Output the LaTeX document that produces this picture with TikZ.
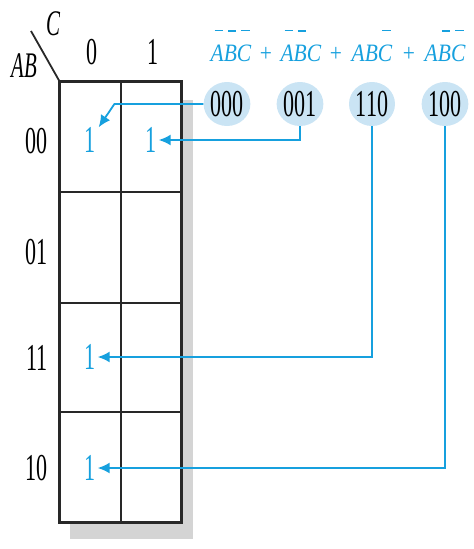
\documentclass[tikz,border=0pt]{standalone}
\usepackage{fontspec}
\setmainfont{Liberation Serif}[FakeStretch=0.58]
\newfontfamily\xfont{Liberation Serif}[FakeStretch=0.86]
\usetikzlibrary{positioning}
\usetikzlibrary{shapes.geometric}
\usetikzlibrary{arrows.meta}
\usetikzlibrary{calc}
\definecolor{kblue}{RGB}{22,160,222}
\definecolor{kfill}{RGB}{202,228,244}
\definecolor{kshade}{RGB}{212,212,212}
\definecolor{kline}{RGB}{40,40,40}
% letter with a short bar well above it
\newcommand{\nb}[1]{\setbox0\hbox{\itshape #1}\rlap{\hspace{0.3\wd0}\raisebox{1.8\ht0}{\rule{0.62\wd0}{1.6pt}}}\box0}

\begin{document}
\begin{tikzpicture}[x=1pt,y=-1pt,
	lbl/.style={font=\fontsize{38}{40}\selectfont,inner sep=0pt},
	one/.style={lbl,text=kblue},
	var/.style={font=\fontsize{36}{38}\selectfont\itshape,inner sep=0pt},
	cell/.style={rectangle,draw=kline,line width=1.6pt,fill=white,minimum width=60.5pt,minimum height=110pt,inner sep=0pt},
	term/.style={ellipse,fill=kfill,minimum width=46pt,minimum height=44pt,inner sep=0pt,font=\fontsize{38}{40}\selectfont},
	expr/.style={font=\xfont\fontsize{25}{27}\selectfont,text=kblue,inner sep=0pt,anchor=base},
	link/.style={kblue,line width=1.8pt,-{Latex[length=12pt,width=11pt]}}]
	\useasboundingbox (0,0) rectangle (474,549);

	% shadow and cells
	\fill[kshade] (70,100) rectangle (193,539);
	\foreach \r/\y/\ly in {00/137/141,01/247.5/252,11/358/358,10/467/468}{
		\node[cell] (c\r-0) at (90.5,\y) {};
		\node[cell] (c\r-1) at (151,\y) {};
		\node[lbl] (r\r) at (37,\ly) {\r};
	}
	\draw[kline,line width=2pt] (c00-0.north west) rectangle (c10-1.south east);

	% heading
	\node[lbl] (k0) at (92,52) {0};
	\node[lbl] (k1) at (153,52) {1};
	\node[var] (vc) at (53,24) {C};
	\node[var] (vab) at (24,66) {AB};
	\draw[kline,line width=1.8pt] (c00-0.north west) -- (31,31);

	% minterms
	\node[expr] (m000) at (231,61) {\nb{A}\nb{B}\nb{C}};
	\node[expr] (p1) at (266,61) {+};
	\node[expr] (m001) at (301,61) {\nb{A}\nb{B}\textit{C}};
	\node[expr] (p2) at (336,61) {+};
	\node[expr] (m110) at (372,61) {\textit{AB}\nb{C}};
	\node[expr] (p3) at (409,61) {+};
	\node[expr] (m100) at (445,61) {\textit{A}\nb{B}\nb{C}};

	\node[term] (t000) at (227,104) {000};
	\node[term] (t001) at (300,104) {001};
	\node[term] (t110) at (372,104) {110};
	\node[term] (t100) at (445,104) {100};

	% ones in the map
	\node[one] (o000) at (90,140) {1};
	\node[one] (o001) at (151,140) {1};
	\node[one] (o110) at (90,357) {1};
	\node[one] (o100) at (90,468) {1};

	\draw[link] (t000.west) -- ++(-89,0) -- ([xshift=3pt]o000.north east);
	\draw[link] (t001.south) |- ([xshift=2pt]o001.east);
	\draw[link] (t110.south) |- ([xshift=2pt]o110.east);
	\draw[link] (t100.south) |- ([xshift=2pt]o100.east);
\end{tikzpicture}
\end{document}
